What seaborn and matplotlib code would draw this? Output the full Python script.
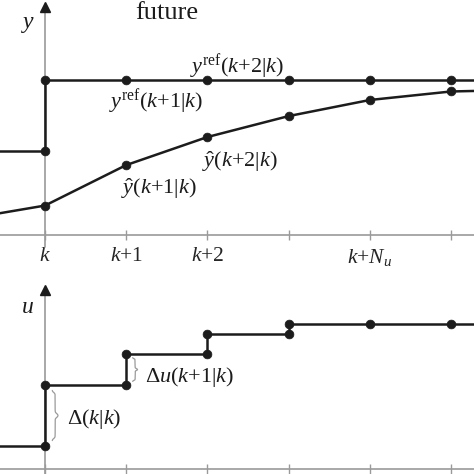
import numpy as np
import matplotlib
matplotlib.use("Agg")
import matplotlib.pyplot as plt
import seaborn as sns

# sample instants (k = 0), a little past the visible window on both sides
steps = [-1, 0, 1, 2, 3, 4, 5, 6]
tick_labels = ["$k$", "$k{+}1$", "$k{+}2$", "", "$k{+}N_u$", ""]

# top panel: reference trajectory and predicted output
y_ref = [0.674, 0.674, 0.674, 0.674, 0.674, 0.674, 0.674, 0.674]
y_past = 0.365
y_hat = [0.068, 0.128, 0.304, 0.426, 0.517, 0.587, 0.624, 0.632]

# bottom panel: control moves (piecewise constant)
u_levels = [0.127, 0.464, 0.635, 0.746, 0.801, 0.801, 0.801]

sns.set_theme(style="white")
plt.rcParams["font.family"] = ["Liberation Serif", "DejaVu Serif"]
plt.rcParams["mathtext.fontset"] = "custom"
plt.rcParams["mathtext.rm"] = "Liberation Serif"
plt.rcParams["mathtext.it"] = "Liberation Serif:italic"
plt.rcParams["mathtext.cal"] = "Liberation Serif:italic"

gray = "#9a9a9a"
ink = "#1c1c1c"
xlim = (-0.554, 5.283)
YMIN = -0.03
H = 474.0


def rect(px_zero, px_one):
    # axes rectangle so that y=0 sits at px_zero and y=1 at px_one (pixel rows)
    unit = px_zero - px_one
    bottom_px = px_zero - YMIN * unit
    return [0, (H - bottom_px) / H, 1, (1 - YMIN) * unit / H]


fig = plt.figure(figsize=(4.74, 4.74), dpi=100)
ax_top = fig.add_axes(rect(235, 5))
ax_bot = fig.add_axes(rect(469, 288))


def setup(ax, labels):
    ax.set_xlim(*xlim)
    ax.set_ylim(YMIN, 1.0)
    for side in ["top", "right", "left"]:
        ax.spines[side].set_visible(False)
    ax.spines["bottom"].set_position(("data", 0))
    ax.spines["bottom"].set_color(gray)
    ax.spines["bottom"].set_linewidth(1.2)
    ax.set_yticks([])
    ax.set_xticks(range(6))
    ax.set_xticklabels(labels, fontsize=15.5)
    ax.tick_params(axis="x", direction="inout", length=7, width=1.0,
                   color=gray, pad=5, bottom=True)
    ax.patch.set_alpha(0)
    # vertical axis with arrow head
    ax.plot([0, 0], [YMIN - 0.02, 0.99], color=gray, lw=1.2, clip_on=False, zorder=1)
    ax.plot([0], [0.99], marker="^", ms=7, color=ink, clip_on=False, zorder=3)


setup(ax_top, tick_labels)
setup(ax_bot, [""] * 6)


def line(ax, xs, ys):
    sns.lineplot(x=xs, y=ys, ax=ax, color=ink, lw=1.8, sort=False,
                 estimator=None, zorder=2)


def dots(ax, xs, ys):
    sns.scatterplot(x=xs, y=ys, ax=ax, color=ink, s=40, edgecolor=ink,
                    zorder=4, clip_on=False)


# ---- top panel ----
ref_x = [s for s in steps if s >= 0]
ref_y = [v for s, v in zip(steps, y_ref) if s >= 0]
line(ax_top, ref_x, ref_y)
line(ax_top, [steps[0], 0, 0], [y_past, y_past, y_ref[1]])
line(ax_top, steps, y_hat)
dots(ax_top, ref_x[:6], ref_y[:6])
dots(ax_top, [0], [y_past])
dots(ax_top, steps[1:7], y_hat[1:7])

ax_top.text(1.50, 0.965, "future", fontsize=19, ha="center", va="center", color=ink)
ax_top.text(-0.21, 0.915, "$y$", fontsize=17, ha="center", va="center", color=ink)
ax_top.text(2.37, 0.700, r"$y^{\mathrm{ref}}(k{+}2|k)$", fontsize=16,
            ha="center", va="baseline", color=ink)
ax_top.text(1.37, 0.550, r"$y^{\mathrm{ref}}(k{+}1|k)$", fontsize=16,
            ha="center", va="baseline", color=ink)
ax_top.text(2.40, 0.296, r"$\hat{y}(k{+}2|k)$", fontsize=16,
            ha="center", va="baseline", color=ink)
ax_top.text(1.40, 0.180, r"$\hat{y}(k{+}1|k)$", fontsize=16,
            ha="center", va="baseline", color=ink)

# ---- bottom panel ----
ux, uy = [steps[0]], [u_levels[0]]
for i in range(len(u_levels) - 1):
    ux += [i, i]
    uy += [u_levels[i], u_levels[i + 1]]
ux.append(steps[-1])
uy.append(u_levels[-1])
line(ax_bot, ux, uy)
dx, dy = [], []
for i in range(4):
    dx += [i, i]
    dy += [u_levels[i], u_levels[i + 1]]
dx += [4, 5]
dy += [u_levels[4], u_levels[5]]
dots(ax_bot, dx, dy)


def brace(ax, x0, y1, y2, w):
    s = np.linspace(0, 1, 80)
    b = 40.0
    half = 1 / (1 + np.exp(-b * (s - 0.08))) + 1 / (1 + np.exp(-b * (s - 0.92)))
    half = (half - half[0]) / (half[-1] - half[0])
    ym = (y1 + y2) / 2
    xs = np.concatenate([x0 + w * half, x0 + w * half[::-1]])
    ys = np.concatenate([y1 + (ym - y1) * s, ym + (y2 - ym) * s])
    ax.plot(xs, ys, color=gray, lw=0.9, zorder=3)


brace(ax_bot, 0.09, u_levels[0] + 0.03, u_levels[1] - 0.03, 0.07)
ax_bot.text(0.27, (u_levels[0] + u_levels[1]) / 2 - 0.02, r"$\Delta(k|k)$",
            fontsize=16, ha="left", va="center", color=ink)
brace(ax_bot, 1.08, u_levels[1] + 0.02, u_levels[2] - 0.02, 0.06)
ax_bot.text(1.23, (u_levels[1] + u_levels[2]) / 2 - 0.04, r"$\Delta u(k{+}1|k)$",
            fontsize=16, ha="left", va="center", color=ink)
ax_bot.text(-0.21, 0.895, "$u$", fontsize=17, ha="center", va="center", color=ink)

fig.savefig("out.png", dpi=100)
